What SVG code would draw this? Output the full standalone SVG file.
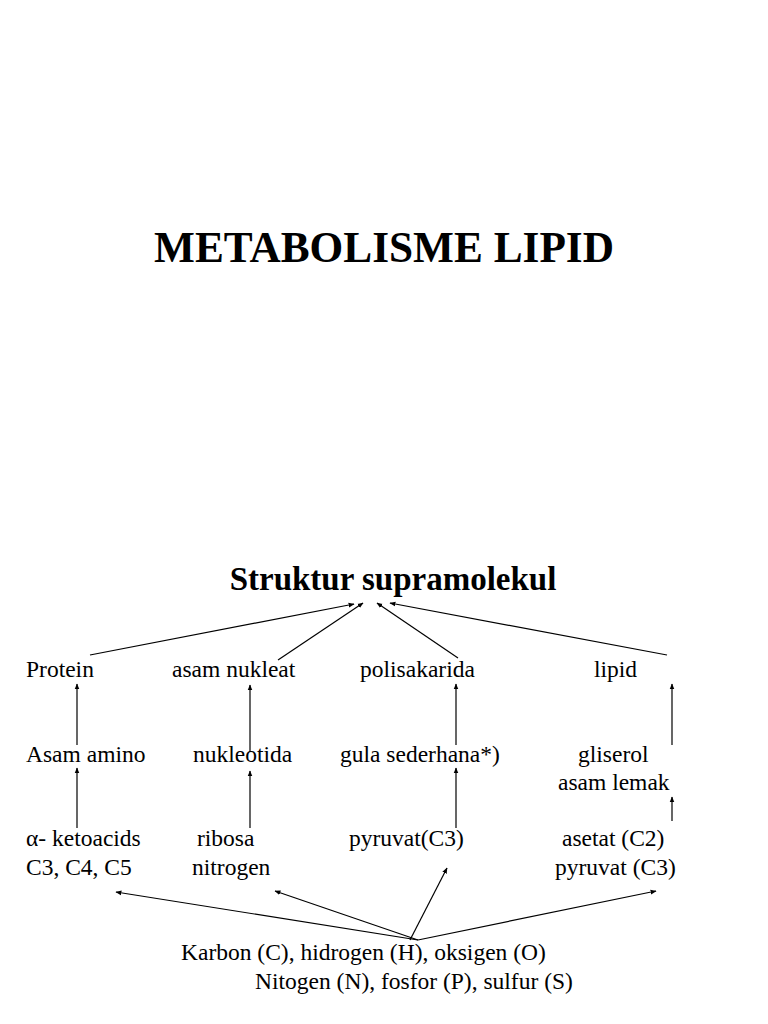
<svg xmlns="http://www.w3.org/2000/svg" width="768" height="1024" viewBox="0 0 768 1024">
<style>
.t{font-family:"Liberation Serif","Times New Roman",serif;font-size:23.5px;fill:#000}
.b{font-family:"Liberation Serif","Times New Roman",serif;font-weight:bold;fill:#000}
.c line{stroke:#000;stroke-width:1.2;marker-end:url(#ah)}
</style>
<defs>
<marker id="ah" viewBox="0 0 10 10" refX="9" refY="5" markerWidth="6" markerHeight="6" markerUnits="userSpaceOnUse" orient="auto">
<path d="M0,1 L10,5 L0,9 z" fill="#000"/>
</marker>
</defs>
<rect width="768" height="1024" fill="#fff"/>
<text class="b" x="384" y="262" font-size="43.3" text-anchor="middle">METABOLISME LIPID</text>
<g id="struktur"><text class="b" x="393" y="590" font-size="33" text-anchor="middle">Struktur supramolekul</text></g>
<g id="protein"><text class="t" x="26" y="677">Protein</text></g>
<g id="asamnukleat"><text class="t" x="172" y="677">asam nukleat</text></g>
<g id="polisakarida"><text class="t" x="360" y="677">polisakarida</text></g>
<g id="lipid"><text class="t" x="594" y="677">lipid</text></g>
<g id="asamamino"><text class="t" x="26" y="762">Asam amino</text></g>
<g id="nukleotida"><text class="t" x="193" y="762">nukleotida</text></g>
<g id="gula"><text class="t" x="340" y="762">gula sederhana*)</text></g>
<g id="gliserol"><text class="t" x="578" y="762">gliserol</text><text class="t" x="558" y="790">asam lemak</text></g>
<g id="ketoacids"><text class="t" x="26" y="846">α- ketoacids</text><text class="t" x="26" y="875">C3, C4, C5</text></g>
<g id="ribosa"><text class="t" x="197" y="846">ribosa</text><text class="t" x="192" y="875">nitrogen</text></g>
<g id="pyruvat"><text class="t" x="349" y="846">pyruvat(C3)</text></g>
<g id="asetat"><text class="t" x="562" y="846">asetat (C2)</text><text class="t" x="555" y="875">pyruvat (C3)</text></g>
<g id="unsur"><text class="t" x="181" y="960">Karbon (C), hidrogen (H), oksigen (O)</text><text class="t" x="255" y="989">Nitogen (N), fosfor (P), sulfur (S)</text></g>
<g id="connectors" class="c">
<line x1="90" y1="655" x2="354" y2="604"/>
<line x1="278" y1="660" x2="363" y2="603"/>
<line x1="458" y1="658" x2="377" y2="603"/>
<line x1="667" y1="655" x2="390" y2="603"/>
<line x1="77" y1="745" x2="77" y2="684"/>
<line x1="250" y1="752" x2="250" y2="685"/>
<line x1="456" y1="745" x2="456" y2="684"/>
<line x1="672" y1="745" x2="672" y2="684"/>
<line x1="77" y1="828" x2="77" y2="768"/>
<line x1="250" y1="828" x2="250" y2="771"/>
<line x1="456" y1="828" x2="456" y2="768"/>
<line x1="672" y1="821" x2="672" y2="797"/>
<line x1="418" y1="940" x2="116" y2="892"/>
<line x1="418" y1="940" x2="275" y2="891"/>
<line x1="410" y1="940" x2="447" y2="868"/>
<line x1="418" y1="940" x2="656" y2="891"/>
</g>
</svg>
